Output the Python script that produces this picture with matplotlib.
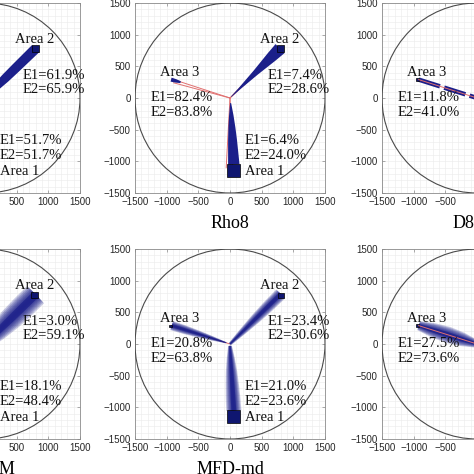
import numpy as np
import matplotlib.pyplot as plt
from matplotlib.patches import Circle, Rectangle

plt.rcParams.update({
    "font.family": ["Liberation Sans", "DejaVu Sans"],
    "font.size": 7,
})

SERIF = ["Liberation Serif", "DejaVu Serif"]
NAVY = "#1b1f8a"
DARK = "#0f1670"
RED = "#e07070"

TITLES = ["", "Rho8", "D8-LTD", "MFD-M", "MFD-md", ""]
# E1 / E2 for each area per panel (None where the label is off the picture)
AREA1_E1 = [51.7, 6.4, None, 18.1, 21.0, None]
AREA1_E2 = [51.7, 24.0, None, 48.4, 23.6, None]
AREA2_E1 = [61.9, 7.4, None, 3.0, 23.4, None]
AREA2_E2 = [65.9, 28.6, None, 59.1, 30.6, None]
AREA3_E1 = [None, 82.4, 11.8, None, 20.8, 27.5]
AREA3_E2 = [None, 83.8, 41.0, None, 63.8, 73.6]

# outlet points of the three areas
AREA1 = (40, -1150)
AREA2 = (800, 780)
AREA3 = (-920, 290)

# width profiles of the flow bands (center -> area)
W_DINF_A2 = [60, 110, 140, 150, 155, 160]
W_RHO8_A2 = [10, 30, 60, 90, 130, 170, 200]
W_RHO8_A1 = [15, 70, 110, 140, 160, 180]
W_MFDM_A2 = [200, 300, 360, 380, 380]
W_MD_A2 = [50, 110, 160, 190, 200]
W_MD_A3 = [150, 140, 110, 70, 20]
W_MD_A1 = [60, 130, 180, 210, 230, 240]
W_MDINF_A3 = [150, 230, 260, 220, 120]

fig = plt.figure(figsize=(4.74, 4.74), dpi=100)
W = 190 / 474
lefts = [-110 / 474, 135 / 474, 382 / 474]
bottoms = [(474 - 193) / 474, (474 - 439) / 474]
title_x = [0.5, 0.5, 0.53]


def band(ax, p0, p1, widths, color, alpha=1.0, z=3):
    p0, p1 = np.array(p0, float), np.array(p1, float)
    d = p1 - p0
    u = d / np.hypot(*d)
    n = np.array([-u[1], u[0]])
    t = np.linspace(0, 1, len(widths))[:, None]
    w = np.array(widths, float)[:, None] / 2
    c = p0 + t * d
    poly = np.vstack([c + n * w, (c - n * w)[::-1]])
    ax.fill(poly[:, 0], poly[:, 1], color=color, alpha=alpha, lw=0, zorder=z)


def soft_band(ax, p0, p1, widths, color=NAVY):
    for k in [1.0, 0.88, 0.76, 0.64, 0.53, 0.43, 0.33, 0.24, 0.15]:
        band(ax, p0, p1, np.array(widths) * k, color, alpha=0.24)
    band(ax, p0, p1, np.array(widths) * 0.32, color, alpha=0.65)


def box(ax, cx, cy, w, h):
    ax.add_patch(Rectangle((cx - w / 2, cy - h / 2), w, h, fc=DARK,
                           ec="black", lw=0.5, zorder=5))


def red(ax, ends, z=2):
    for ex, ey in ends:
        ax.plot([0, ex], [0, ey], color=RED, lw=0.7, zorder=z)


def labels(ax, i):
    kw = dict(family=SERIF, fontsize=10.5, color="#111111", zorder=8)
    ax.text(790, 930, "Area 2", ha="center", va="center", **kw)
    ax.text(-790, 395, "Area 3", ha="center", va="center", **kw)
    ax.text(230, -1160, "Area 1", ha="left", va="center", **kw)
    if AREA2_E1[i] is not None:
        ax.text(590, 460, f"E1={AREA2_E1[i]:.1f}%\nE2={AREA2_E2[i]:.1f}%",
                ha="left", va="top", linespacing=1.15, **kw)
    if AREA3_E1[i] is not None:
        ax.text(-1250, 110, f"E1={AREA3_E1[i]:.1f}%\nE2={AREA3_E2[i]:.1f}%",
                ha="left", va="top", linespacing=1.15, **kw)
    if AREA1_E1[i] is not None:
        ax.text(235, -570, f"E1={AREA1_E1[i]:.1f}%\nE2={AREA1_E2[i]:.1f}%",
                ha="left", va="top", linespacing=1.15, **kw)


axes = []
for r in range(2):
    for c in range(3):
        ax = fig.add_axes([lefts[c], bottoms[r], W, W])
        axes.append(ax)
        ax.set_xlim(-1500, 1500)
        ax.set_ylim(-1500, 1500)
        ticks = np.arange(-1500, 1501, 500)
        ax.set_xticks(ticks)
        ax.set_yticks(ticks)
        ax.set_xticks(np.arange(-1500, 1501, 100), minor=True)
        ax.set_yticks(np.arange(-1500, 1501, 100), minor=True)
        ax.grid(which="both", color="#ebebeb", lw=0.4, zorder=0)
        ax.tick_params(which="major", direction="in", length=2.5, width=0.5,
                       top=True, right=True, colors="#8a8a8a",
                       labelcolor="#262626", labelsize=7, pad=3)
        ax.tick_params(which="minor", length=0)
        for s in ax.spines.values():
            s.set_color("#8a8a8a")
            s.set_linewidth(0.6)
        ax.add_patch(Circle((0, 0), 1500, fill=False, ec="#4a4a4a", lw=0.8, zorder=4))
        ax.text(title_x[c], -0.115, TITLES[r * 3 + c], transform=ax.transAxes,
                ha="center", va="top", family=SERIF, fontsize=13)

# D-inf style panel (top left)
ax = axes[0]
band(ax, (0, 0), AREA2, W_DINF_A2, NAVY)
box(ax, 800, 780, 120, 110)
band(ax, (0, -50), (30, -1050), W_RHO8_A1, NAVY)
box(ax, 60, -1150, 200, 200)
red(ax, [AREA2, (40, -1100)])

# Rho8
ax = axes[1]
red(ax, [(-920, 300), (-890, 240), (-60, -1100), (40, -1060), (760, 800), (800, 740)])
band(ax, (20, 20), (790, 780), W_RHO8_A2, NAVY)
box(ax, 800, 780, 120, 100)
band(ax, (-780, 250), (-930, 290), [30, 55, 65], NAVY)
band(ax, (10, -80), (60, -1050), W_RHO8_A1, NAVY)
box(ax, 60, -1150, 200, 210)

# D8-LTD
ax = axes[2]
ax.plot([AREA3[0], 0], [AREA3[1], 0], color=NAVY, lw=3.2, dashes=(5, 1), zorder=3)
box(ax, -940, 295, 50, 45)
red(ax, [AREA3], z=6)

# MFD-M
ax = axes[3]
soft_band(ax, (0, 0), AREA2, W_MFDM_A2)
box(ax, 775, 775, 110, 100)

# MFD-md
ax = axes[4]
red(ax, [AREA3])
soft_band(ax, (0, 0), (800, 790), W_MD_A2)
box(ax, 805, 770, 100, 80)
soft_band(ax, AREA3, (-60, 20), W_MD_A3)
box(ax, -935, 290, 45, 35)
soft_band(ax, (0, -30), (60, -1050), W_MD_A1)
box(ax, 60, -1150, 200, 200)

# MD-inf style panel (bottom right)
ax = axes[5]
soft_band(ax, AREA3, (0, 0), W_MDINF_A3)
box(ax, -940, 295, 45, 40)
red(ax, [AREA3], z=6)

for i, ax in enumerate(axes):
    labels(ax, i)

fig.savefig("out.png", dpi=100)
